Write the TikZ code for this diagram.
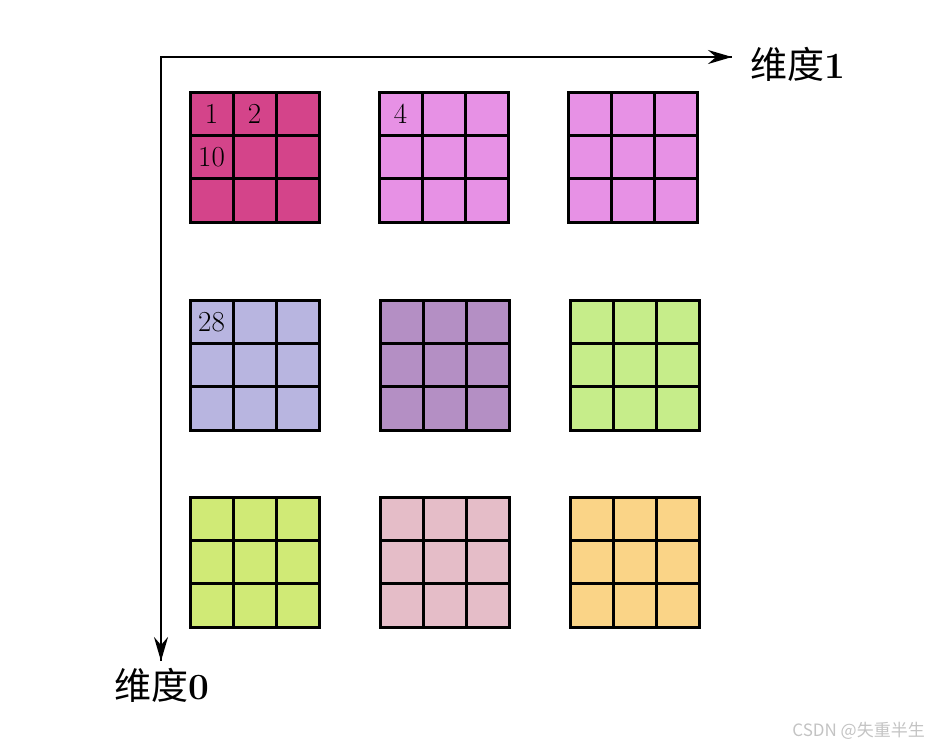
\documentclass[tikz,border=0pt]{standalone}
\usepackage{fontspec}
\newfontfamily\cjk{Noto Sans CJK SC}
\usetikzlibrary{arrows.meta}
\definecolor{cA}{RGB}{212,68,138}
\definecolor{cB}{RGB}{231,145,229}
\definecolor{cC}{RGB}{184,181,224}
\definecolor{cD}{RGB}{180,143,196}
\definecolor{cE}{RGB}{198,237,138}
\definecolor{cF}{RGB}{208,234,118}
\definecolor{cG}{RGB}{229,189,200}
\definecolor{cH}{RGB}{250,212,135}
\definecolor{wm}{RGB}{195,195,195}
\tikzset{
  gridline/.style={line width=3pt, draw=black},
  axis/.style={line width=2.4pt, -{Stealth[length=24pt,width=14pt,inset=8pt]}},
  num/.style={font=\fontsize{29}{32}\selectfont, inner sep=0pt},
  axlabel/.style={font=\fontsize{37}{40}\selectfont, inner sep=0pt},
}
\newcommand{\mygrid}[3]{%
  \fill[#3] (#1,#2) rectangle ++(129,130);
  \foreach \k in {1,2} {
    \draw[gridline] ({#1+43*\k},#2) -- ++(0,130);
    \draw[gridline] (#1,{#2+43.333*\k}) -- ++(129,0);
  }
  \draw[gridline] (#1,#2) rectangle ++(129,130);
}
\begin{document}
\begin{tikzpicture}[x=1pt,y=-1pt]
\useasboundingbox (0,0) rectangle (929,745);
% grids
\mygrid{190}{92}{cA}
\mygrid{379}{92}{cB}
\mygrid{568}{92}{cB}
\mygrid{190}{300}{cC}
\mygrid{380}{300}{cD}
\mygrid{570}{300}{cE}
\mygrid{190}{497}{cF}
\mygrid{380}{497}{cG}
\mygrid{570}{497}{cH}
% numbers
\node[num] (n1) at (211.5,113.7) {1};
\node[num] (n2) at (254.5,113.7) {2};
\node[num] (n10) at (211.5,157) {10};
\node[num] (n4) at (400.5,113.7) {4};
\node[num] (n28) at (211.5,321.7) {28};
% axes
\coordinate (o) at (161,57);
\coordinate (e1) at (732,57);
\coordinate (e0) at (161,661);
\node[axlabel] (l1) at (798,64) {{\cjk 维度}\textbf{1}};
\node[axlabel] (l0) at (162,685) {{\cjk 维度}\textbf{0}};
\draw[line width=2.4pt] (e0) -- (o) -- (e1);
\draw[axis] (o) -- (e1);
\draw[axis] (o) -- (e0);
% watermark
\node[font=\cjk\fontsize{17}{19}\selectfont, text=wm, inner sep=0pt, anchor=east] (wmk) at (925,731) {CSDN @失重半生};
\end{tikzpicture}
\end{document}
